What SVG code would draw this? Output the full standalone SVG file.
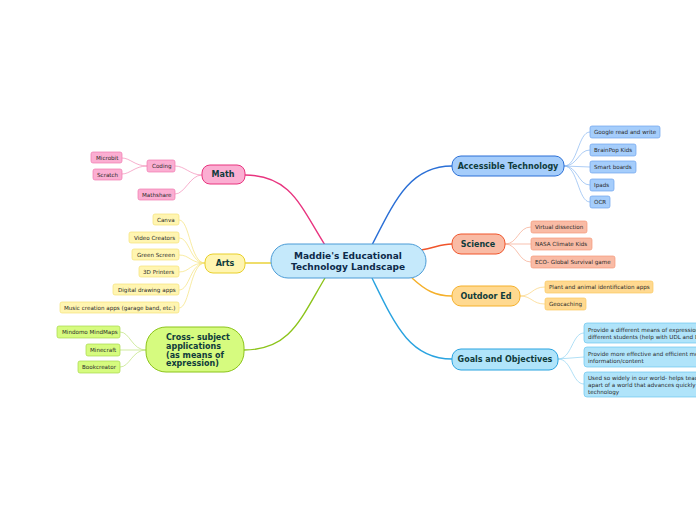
<svg xmlns="http://www.w3.org/2000/svg" width="696" height="520" viewBox="0 0 696 520">
<style>
text{font-family:"DejaVu Sans","Liberation Sans",sans-serif;fill:#2a2a2a}
.m{font-size:8px;font-weight:bold;fill:#0f3b3b;text-anchor:middle}
.s{font-size:5.6px}
.c{fill:none;stroke-width:1.4}
.l{fill:none;stroke-width:0.7}
</style>
<rect width="696" height="520" fill="#fff"/>
<g id="connectors">
<path class="c" stroke="#e8347f" d="M325,245 C300,205 290,175 245,175"/>
<path class="c" stroke="#e8cf2a" d="M271,263 L245,263"/>
<path class="c" stroke="#8cc41a" d="M325,278 C300,320 290,350 244,350"/>
<path class="c" stroke="#2a6fd6" d="M372,245 C395,200 410,166 452,166"/>
<path class="c" stroke="#f0542a" d="M421,250 C435,248 440,244 452,244"/>
<path class="c" stroke="#f5b02a" d="M412,278 C425,290 435,296 452,296"/>
<path class="c" stroke="#29a3e0" d="M372,278 C395,325 410,359 452,359"/>
<g stroke="#f48cb8" class="l"><path d="M202,175 C190,175 185,166 175,166"/><path d="M202,175 C190,175 185,194 175,194"/><path d="M147,166 C135,166 130,158 122,158"/><path d="M147,166 C135,166 130,174 122,174"/></g>
<g stroke="#f5e27a" class="l"><path d="M205,263 C190,263 190,220 179,220"/><path d="M205,263 C190,263 190,238 179,238"/><path d="M205,263 C190,263 190,255 179,255"/><path d="M205,263 C190,263 190,272 179,272"/><path d="M205,263 C190,263 190,290 179,290"/><path d="M205,263 C190,263 190,308 179,308"/></g>
<g stroke="#bde27a" class="l"><path d="M146,350 C132,350 130,332 120,332"/><path d="M146,350 L120,350"/><path d="M146,350 C132,350 130,367 120,367"/></g>
<g stroke="#8ab8f0" class="l"><path d="M564,166 C578,166 578,132 590,132"/><path d="M564,166 C578,166 578,150 590,150"/><path d="M564,166 L590,167"/><path d="M564,166 C578,166 578,185 590,185"/><path d="M564,166 C578,166 578,202 590,202"/></g>
<g stroke="#f5a88d" class="l"><path d="M505,244 C518,244 518,227 531,227"/><path d="M505,244 L531,244"/><path d="M505,244 C518,244 518,262 531,262"/></g>
<g stroke="#fbd27a" class="l"><path d="M520,296 C532,296 532,287 545,287"/><path d="M520,296 C532,296 532,304 545,304"/></g>
<g stroke="#8fd3f2" class="l"><path d="M558,359 C572,359 572,333 584,333"/><path d="M558,359 L584,357"/><path d="M558,359 C572,359 572,384 584,384"/></g>
</g>
<g id="center"><rect x="271" y="244" width="155" height="34" rx="17" fill="#c5e9fb" stroke="#4a9bd6"/><text class="m" x="348" y="259" style="font-size:9px;fill:#0d2a4a">Maddie's Educational</text><text class="m" x="348" y="270" style="font-size:9px;fill:#0d2a4a">Technology Landscape</text></g>
<g id="math"><rect x="202" y="165" width="43" height="19" rx="8" fill="#fbaed2" stroke="#e8347f"/><text class="m" x="223" y="177">Math</text></g>
<g id="math-children" fill="#fbaed2" stroke="#f07ab0" stroke-width="0.7">
<rect x="147" y="160" width="28" height="12" rx="2"/><rect x="91" y="152" width="31" height="11" rx="2"/><rect x="93" y="169" width="29" height="11" rx="2"/><rect x="138" y="189" width="37" height="11" rx="2"/>
<text class="s" x="152" y="168" stroke="none">Coding</text><text class="s" x="96" y="160" stroke="none">Microbit</text><text class="s" x="97" y="177" stroke="none">Scratch</text><text class="s" x="142" y="197" stroke="none">Mathshare</text></g>
<g id="arts"><rect x="205" y="254" width="40" height="19" rx="8" fill="#fff5b1" stroke="#e8cf2a"/><text class="m" x="225" y="266">Arts</text></g>
<g id="arts-children" fill="#fff5b1" stroke="#f5e27a" stroke-width="0.7">
<rect x="153" y="214" width="26" height="11" rx="2"/><rect x="129" y="232" width="50" height="11" rx="2"/><rect x="132" y="249" width="47" height="11" rx="2"/><rect x="139" y="266" width="40" height="11" rx="2"/><rect x="113" y="284" width="66" height="11" rx="2"/><rect x="60" y="302" width="119" height="11" rx="2"/>
<g stroke="none"><text class="s" x="157" y="222">Canva</text><text class="s" x="134" y="240">Video Creators</text><text class="s" x="137" y="257">Green Screen</text><text class="s" x="143" y="274">3D Printers</text><text class="s" x="118" y="292">Digital drawing apps</text><text class="s" x="64" y="310">Music creation apps (garage band, etc.)</text></g></g>
<g id="cross"><rect x="146" y="327" width="98" height="45" rx="20" fill="#d6fb7f" stroke="#8cc41a"/><g class="m" style="text-anchor:start"><text x="166" y="340" class="m" style="text-anchor:start">Cross- subject</text><text x="166" y="349" class="m" style="text-anchor:start">applications</text><text x="166" y="358" class="m" style="text-anchor:start">(as means of</text><text x="166" y="366" class="m" style="text-anchor:start">expression)</text></g></g>
<g id="cross-children" fill="#d6fb7f" stroke="#a8d84a" stroke-width="0.7">
<rect x="57" y="326" width="63" height="12" rx="2"/><rect x="86" y="344" width="34" height="12" rx="2"/><rect x="78" y="361" width="42" height="12" rx="2"/>
<g stroke="none"><text class="s" x="62" y="334">Mindomo MindMaps</text><text class="s" x="90" y="352">Minecraft</text><text class="s" x="82" y="369">Bookcreator</text></g></g>
<g id="accessible"><rect x="452" y="156" width="112" height="20" rx="9" fill="#a5cdfb" stroke="#2a6fd6"/><text class="m" x="508" y="169">Accessible Technology</text></g>
<g id="accessible-children" fill="#a5cdfb" stroke="#6ea4ee" stroke-width="0.7">
<rect x="590" y="126" width="70" height="12" rx="2"/><rect x="590" y="144" width="46" height="12" rx="2"/><rect x="590" y="161" width="46" height="12" rx="2"/><rect x="590" y="179" width="24" height="12" rx="2"/><rect x="590" y="196" width="20" height="12" rx="2"/>
<g stroke="none"><text class="s" x="594" y="134">Google read and write</text><text class="s" x="594" y="152">BrainPop Kids</text><text class="s" x="594" y="169">Smart boards</text><text class="s" x="594" y="187">Ipads</text><text class="s" x="594" y="204">OCR</text></g></g>
<g id="science"><rect x="452" y="234" width="53" height="20" rx="9" fill="#f9bba5" stroke="#f0542a"/><text class="m" x="478" y="247">Science</text></g>
<g id="science-children" fill="#f9bba5" stroke="#f59a7a" stroke-width="0.7">
<rect x="531" y="221" width="56" height="12" rx="2"/><rect x="531" y="238" width="61" height="12" rx="2"/><rect x="531" y="256" width="84" height="12" rx="2"/>
<g stroke="none"><text class="s" x="535" y="229">Virtual dissection</text><text class="s" x="535" y="246">NASA Climate Kids</text><text class="s" x="535" y="264">ECO- Global Survival game</text></g></g>
<g id="outdoor"><rect x="452" y="286" width="68" height="20" rx="9" fill="#ffd990" stroke="#f5b02a"/><text class="m" x="486" y="299">Outdoor Ed</text></g>
<g id="outdoor-children" fill="#ffd990" stroke="#fbc860" stroke-width="0.7">
<rect x="545" y="281" width="108" height="12" rx="2"/><rect x="545" y="298" width="41" height="12" rx="2"/>
<g stroke="none"><text class="s" x="549" y="289">Plant and animal identification apps</text><text class="s" x="549" y="306">Geocaching</text></g></g>
<g id="goals"><rect x="452" y="349" width="106" height="21" rx="9" fill="#b0e4fa" stroke="#29a3e0"/><text class="m" x="505" y="362">Goals and Objectives</text></g>
<g id="goals-children" fill="#b0e4fa" stroke="#6cc6ee" stroke-width="0.7">
<rect x="584" y="323" width="130" height="20" rx="3"/><rect x="584" y="347" width="130" height="20" rx="3"/><rect x="584" y="372" width="130" height="25" rx="3"/>
<g stroke="none"><text class="s" x="588" y="332">Provide a different means of expression for</text><text class="s" x="588" y="339">different students (help with UDL and DI)</text>
<text class="s" x="588" y="356">Provide more effective and efficient means of</text><text class="s" x="588" y="363">information/content</text>
<text class="s" x="588" y="380">Used so widely in our world- helps teach</text><text class="s" x="588" y="387">apart of a world that advances quickly with</text><text class="s" x="588" y="394">technology</text></g></g>
</svg>
